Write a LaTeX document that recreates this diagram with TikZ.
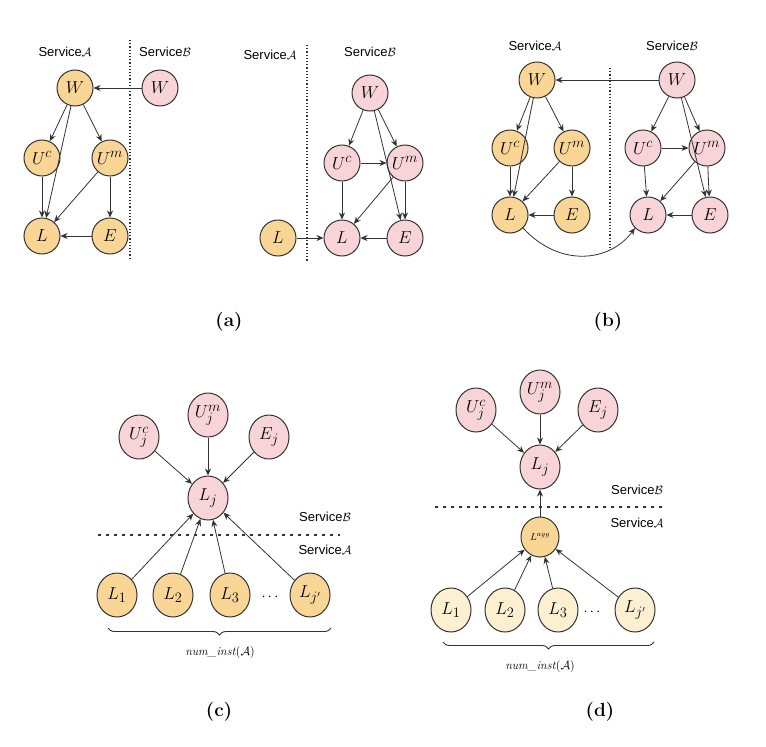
\documentclass[tikz,border=0pt]{standalone}
\usepackage{fontspec}
\newfontfamily\sansf{Liberation Sans}
\usetikzlibrary{arrows.meta,decorations.pathreplacing,shapes.geometric}
\definecolor{orfill}{RGB}{250,214,150}
\definecolor{pkfill}{RGB}{248,212,216}
\definecolor{ltfill}{RGB}{253,240,208}
\begin{document}
\begin{tikzpicture}[x=1pt,y=-1pt,
  nd/.style={circle,draw=black!80,line width=1pt,minimum size=36pt,inner sep=0pt,font=\fontsize{19}{22}\selectfont},
  en/.style={ellipse,draw=black!80,line width=1pt,minimum width=40pt,minimum height=44pt,inner sep=0pt,font=\fontsize{19}{22}\selectfont},
  orA/.style={fill=orfill},
  pk/.style={fill=pkfill},
  lt/.style={fill=ltfill},
  ar/.style={-{Stealth[length=7pt,width=6pt]},black!80,line width=0.8pt},
  sv/.style={font=\sansf\fontsize{13}{15}\selectfont,inner sep=0pt},
  dl/.style={dotted,line width=1.2pt,black!80},
  captxt/.style={font=\fontsize{19}{22}\selectfont\bfseries}]
\useasboundingbox (0,0) rectangle (766,747);
% ---------- (a) left
\node[sv] (sa1) at (65,52) {Service$\mathcal{A}$};
\node[sv] (sb1) at (165,52) {Service$\mathcal{B}$};
\draw[dl] (130,40) -- (130,258);
\node[nd,orA] (aW) at (75,88) {$W$};
\node[nd,pk] (aWb) at (160,88) {$W$};
\node[nd,orA] (aUc) at (42,158) {$U^c$};
\node[nd,orA] (aUm) at (110,158) {$U^m$};
\node[nd,orA] (aL) at (42,236) {$L$};
\node[nd,orA] (aE) at (110,236) {$E$};
\draw[ar] (aWb) -- (aW);
\draw[ar] (aW) -- (aUc); \draw[ar] (aW) -- (aUm); \draw[ar] (aW) -- (aL);
\draw[ar] (aUc) -- (aL); \draw[ar] (aUm) -- (aL); \draw[ar] (aUm) -- (aE); \draw[ar] (aE) -- (aL);
% ---------- (a) right
\node[sv] (sa2) at (270,55) {Service$\mathcal{A}$};
\node[sv] (sb2) at (370,52) {Service$\mathcal{B}$};
\draw[dl] (307,45) -- (307,262);
\node[nd,pk] (bW) at (370,93) {$W$};
\node[nd,pk] (bUc) at (342,163) {$U^c$};
\node[nd,pk] (bUm) at (405,163) {$U^m$};
\node[nd,orA] (bLa) at (278,238) {$L$};
\node[nd,pk] (bL) at (342,238) {$L$};
\node[nd,pk] (bE) at (405,238) {$E$};
\draw[ar] (bW) -- (bUc); \draw[ar] (bW) -- (bUm); \draw[ar] (bW) -- (bE);
\draw[ar] (bUc) -- (bUm); \draw[ar] (bUc) -- (bL); \draw[ar] (bUm) -- (bL);
\draw[ar] (bUm) -- (bE); \draw[ar] (bE) -- (bL); \draw[ar] (bLa) -- (bL);
\node[captxt] (ca) at (229,322) {(a)};
% ---------- (b)
\node[sv] (sa3) at (535,46) {Service$\mathcal{A}$};
\node[sv] (sb3) at (672,46) {Service$\mathcal{B}$};
\draw[dl] (610,68) -- (610,248);
\node[nd,orA] (cW) at (537,80) {$W$};
\node[nd,orA] (cUc) at (510,148) {$U^c$};
\node[nd,orA] (cUm) at (572,148) {$U^m$};
\node[nd,orA] (cL) at (510,215) {$L$};
\node[nd,orA] (cE) at (572,215) {$E$};
\node[nd,pk] (dW) at (677,80) {$W$};
\node[nd,pk] (dUc) at (643,148) {$U^c$};
\node[nd,pk] (dUm) at (707,148) {$U^m$};
\node[nd,pk] (dL) at (648,215) {$L$};
\node[nd,pk] (dE) at (710,215) {$E$};
\draw[ar] (dW) -- (cW);
\draw[ar] (cW) -- (cUc); \draw[ar] (cW) -- (cUm); \draw[ar] (cW) -- (cL);
\draw[ar] (cUc) -- (cL); \draw[ar] (cUm) -- (cL); \draw[ar] (cUm) -- (cE); \draw[ar] (cE) -- (cL);
\draw[ar] (dW) -- (dUc); \draw[ar] (dW) -- (dUm); \draw[ar] (dW) -- (dE);
\draw[ar] (dUc) -- (dUm); \draw[ar] (dUc) -- (dL); \draw[ar] (dUm) -- (dL);
\draw[ar] (dUm) -- (dE); \draw[ar] (dE) -- (dL);
\draw[ar] (cL.south east) .. controls (560,268) and (610,262) .. (dL.south west);
\node[captxt] (cb) at (608,322) {(b)};
% ---------- (c)
\node[en,pk] (eUc) at (139,437) {$U^c_j$};
\node[en,pk] (eUm) at (208,415) {$U^m_j$};
\node[en,pk] (eE) at (269,437) {$E_j$};
\node[en,pk] (eL) at (208,498) {$L_j$};
\draw[dl,dash pattern=on 3pt off 5pt] (98,535) -- (340,535);
\node[sv] (sb4) at (325,517) {Service$\mathcal{B}$};
\node[sv] (sa4) at (325,550) {Service$\mathcal{A}$};
\node[en,orA] (eL1) at (117,595) {$L_1$};
\node[en,orA] (eL2) at (173,595) {$L_2$};
\node[en,orA] (eL3) at (230,595) {$L_3$};
\node[font=\Large] (edots) at (270,597) {$\cdots$};
\node[en,orA] (eLj) at (310,595) {$L_{j'}$};
\foreach \s in {eUc,eUm,eE,eL1,eL2,eL3,eLj} \draw[ar] (\s) -- (eL);
\draw[decorate,decoration={brace,mirror,amplitude=7pt},line width=0.9pt,black!80] (108,628) -- (331,628);
\node[font=\large] (enum) at (220,652) {\textit{num\_inst}$(\mathcal{A})$};
\node[captxt] (cc) at (219,712) {(c)};
% ---------- (d)
\node[en,pk] (fUc) at (476,410) {$U^c_j$};
\node[en,pk] (fUm) at (540,392) {$U^m_j$};
\node[en,pk] (fE) at (598,410) {$E_j$};
\node[en,pk] (fL) at (540,467) {$L_j$};
\draw[dl,dash pattern=on 3pt off 5pt] (435,507) -- (662,507);
\node[sv] (sb5) at (637,490) {Service$\mathcal{B}$};
\node[sv] (sa5) at (637,523) {Service$\mathcal{A}$};
\node[en,orA,minimum width=38pt,minimum height=40pt,font=\normalsize] (fLa) at (540,537) {$L^{agg}$};
\node[en,lt] (fL1) at (451,610) {$L_1$};
\node[en,lt] (fL2) at (505,610) {$L_2$};
\node[en,lt] (fL3) at (558,610) {$L_3$};
\node[font=\Large] (fdots) at (592,612) {$\cdots$};
\node[en,lt] (fLj) at (635,610) {$L_{j'}$};
\foreach \s in {fUc,fUm,fE,fLa} \draw[ar] (\s) -- (fL);
\foreach \s in {fL1,fL2,fL3,fLj} \draw[ar] (\s) -- (fLa);
\draw[decorate,decoration={brace,mirror,amplitude=7pt},line width=0.9pt,black!80] (443,642) -- (654,642);
\node[font=\large] (fnum) at (540,666) {\textit{num\_inst}$(\mathcal{A})$};
\node[captxt] (cd) at (600,712) {(d)};
\end{tikzpicture}
\end{document}
